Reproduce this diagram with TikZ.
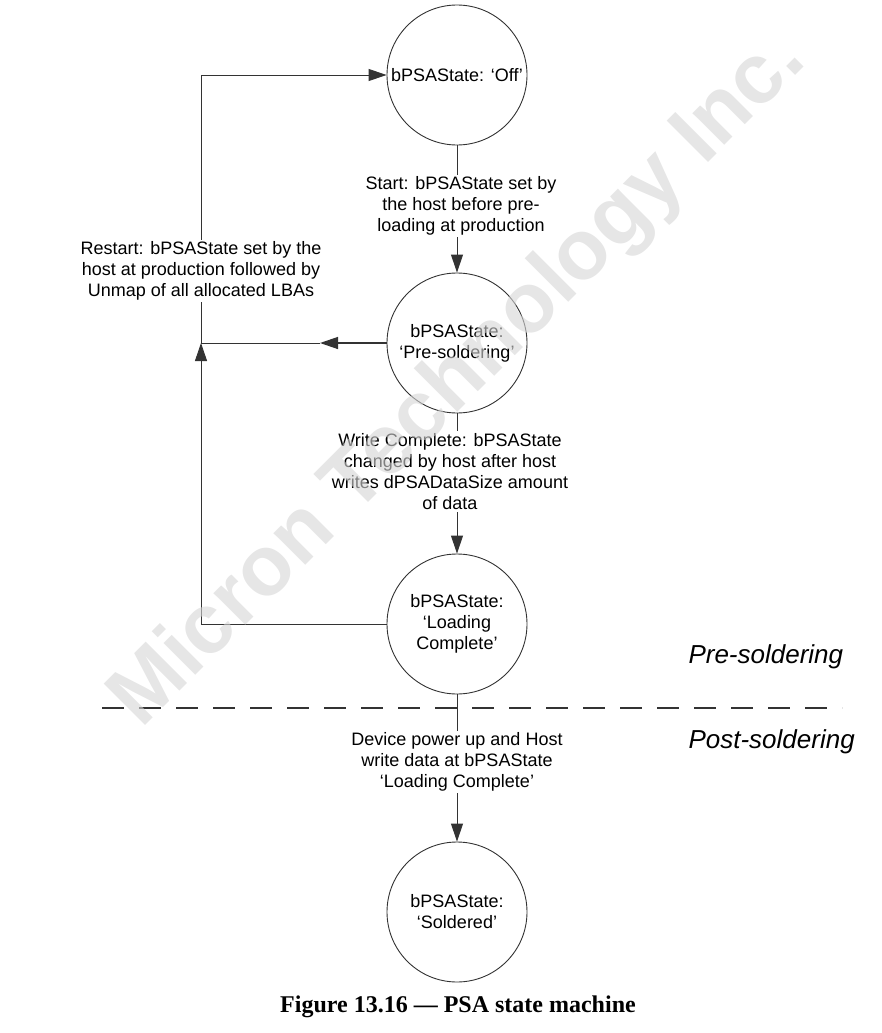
\documentclass[tikz,border=0pt]{standalone}
\usepackage{fontspec}
\setmainfont{Liberation Sans}
\newfontfamily\capfont{Liberation Serif}
\usetikzlibrary{arrows.meta}
\definecolor{markgray}{RGB}{213,213,213}

\begin{document}
\begin{tikzpicture}[x=1pt,y=-1pt,
  pstate/.style={circle,draw=black!80,line width=0.9pt,minimum size=140pt,inner sep=0pt,align=center,font=\fontsize{18}{21}\selectfont},
  cond/.style={fill=white,align=center,inner sep=2pt,font=\fontsize{18}{21}\selectfont},
  wire/.style={draw=black!80,line width=0.9pt},
  tip/.style={-{Triangle[length=18pt,width=12pt]}},
  side/.style={anchor=west,font=\itshape\fontsize{26}{30}\selectfont}]
\useasboundingbox (0,0) rectangle (881,1033);

\node[pstate] (off) at (457,75) {bPSAState: ‘Off’};
\node[pstate] (pre) at (457,343) {bPSAState:\\‘Pre-soldering’};
\node[pstate] (load) at (457,624) {bPSAState:\\‘Loading\\Complete’};
\node[pstate] (sold) at (457,912) {bPSAState:\\‘Soldered’};

\coordinate (lbot) at (201,624);
\coordinate (ljoin) at (201,343);
\coordinate (ltop) at (201,75);
\coordinate (mid) at (320,343);

\draw[wire,tip] (off.south) -- (pre.north);
\draw[wire,tip] (pre.south) -- (load.north);
\draw[wire,tip] (load.south) -- (sold.north);
\draw[wire,tip] (load.west) -- (lbot) -- (ljoin);
\draw[wire,tip] (ljoin) -- (ltop) -- (off.west);
\draw[wire,tip,line width=1.3pt] (pre.west) -- (mid);
\draw[wire] (mid) -- (ljoin);

\draw[wire,line width=1.3pt,dash pattern=on 22pt off 15pt] (102,708) -- (842,708);

\node[cond] (start) at (461,206) {Start: bPSAState set by\\the host before pre-\\loading at production};
\node[cond] (restart) at (201,271) {Restart: bPSAState set by the\\host at production followed by\\Unmap of all allocated LBAs};
\node[cond] (write) at (450,471.5) {Write Complete: bPSAState\\changed by host after host\\writes dPSADataSize amount\\of data};
\node[cond] (power) at (457,762) {Device power up and Host\\write data at bPSAState\\‘Loading Complete’};

\node[side] (presold) at (685,657) {Pre-soldering};
\node[side] (postsold) at (685,742) {Post-soldering};

\node[font=\capfont\bfseries\fontsize{24}{28}\selectfont] (caption) at (458,1007) {Figure 13.16 — PSA state machine};

% watermark
\node[rotate=45,text=markgray,opacity=0.6,font=\bfseries\fontsize{85}{90}\selectfont] (mark) at (459,381) {Micron Technology Inc.};
\end{tikzpicture}
\end{document}
